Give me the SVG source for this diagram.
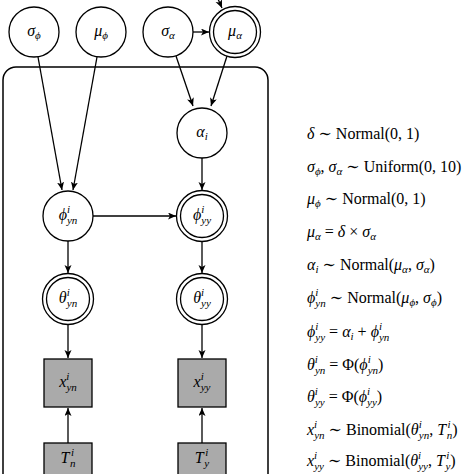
<svg xmlns="http://www.w3.org/2000/svg" width="474" height="474" viewBox="0 0 474 474">
<style>
.n{fill:#fff;stroke:#000;stroke-width:1.3}
.obs{fill:#aaa;stroke:#000;stroke-width:1.3}
.e{stroke:#000;stroke-width:1.3;fill:none;marker-end:url(#ah)}
.plate{fill:none;stroke:#000;stroke-width:1.5}
text{font-family:"Liberation Serif","DejaVu Serif",serif;font-size:16px;fill:#000}
.m{font-style:italic}
.s{font-size:11px}
</style>
<defs>
<marker id="ah" markerUnits="userSpaceOnUse" markerWidth="9" markerHeight="8" refX="8" refY="3.5" orient="auto">
<path d="M0,0 L8,3.5 L0,7 L2,3.5 z" fill="#000"/>
</marker>
</defs>
<rect class="plate" x="3" y="67" width="265" height="440" rx="13"/>
<g id="connectors">
<line class="e" x1="214" y1="-10" x2="222" y2="8"/>
<line class="e" x1="193" y1="32" x2="209" y2="32"/>
<line class="e" x1="38" y1="57" x2="62" y2="190"/>
<line class="e" x1="97" y1="57" x2="73" y2="190"/>
<line class="e" x1="176" y1="56" x2="193" y2="106"/>
<line class="e" x1="227" y1="56" x2="211" y2="106"/>
<line class="e" x1="202" y1="158" x2="202" y2="190"/>
<line class="e" x1="93" y1="216" x2="176" y2="216"/>
<line class="e" x1="68" y1="241" x2="68" y2="273"/>
<line class="e" x1="202" y1="241" x2="202" y2="273"/>
<line class="e" x1="68" y1="324" x2="68" y2="358"/>
<line class="e" x1="202" y1="324" x2="202" y2="358"/>
<line class="e" x1="68" y1="443" x2="68" y2="408"/>
<line class="e" x1="202" y1="443" x2="202" y2="408"/>
</g>
<g id="sigma_phi"><circle class="n" cx="34" cy="32" r="25"/><text x="34" y="36" text-anchor="middle"><tspan class="m">σ</tspan><tspan class="s m" dy="3">ϕ</tspan></text></g>
<g id="mu_phi"><circle class="n" cx="101" cy="32" r="25"/><text x="101" y="36" text-anchor="middle"><tspan class="m">μ</tspan><tspan class="s m" dy="3">ϕ</tspan></text></g>
<g id="sigma_alpha"><circle class="n" cx="168" cy="32" r="25"/><text x="168" y="36" text-anchor="middle"><tspan class="m">σ</tspan><tspan class="s m" dy="3">α</tspan></text></g>
<g id="mu_alpha"><circle class="n" cx="235" cy="32" r="25.5"/><circle class="n" cx="235" cy="32" r="21.5"/><text x="235" y="36" text-anchor="middle"><tspan class="m">μ</tspan><tspan class="s m" dy="3">α</tspan></text></g>
<g id="alpha_i"><circle class="n" cx="202" cy="133" r="25"/><text x="202" y="137" text-anchor="middle"><tspan class="m">α</tspan><tspan class="s m" dy="3">i</tspan></text></g>
<g id="phi_yn"><circle class="n" cx="68" cy="216" r="25"/><text x="68" y="220" text-anchor="middle"><tspan class="m">ϕ</tspan><tspan class="s m" dy="-7">i</tspan><tspan class="s m" dx="-3" dy="11">yn</tspan></text></g>
<g id="phi_yy"><circle class="n" cx="202" cy="216" r="25.5"/><circle class="n" cx="202" cy="216" r="21.5"/><text x="202" y="220" text-anchor="middle"><tspan class="m">ϕ</tspan><tspan class="s m" dy="-7">i</tspan><tspan class="s m" dx="-3" dy="11">yy</tspan></text></g>
<g id="theta_yn"><circle class="n" cx="68" cy="299" r="25.5"/><circle class="n" cx="68" cy="299" r="21.5"/><text x="68" y="303" text-anchor="middle"><tspan class="m">θ</tspan><tspan class="s m" dy="-7">i</tspan><tspan class="s m" dx="-3" dy="11">yn</tspan></text></g>
<g id="theta_yy"><circle class="n" cx="202" cy="299" r="25.5"/><circle class="n" cx="202" cy="299" r="21.5"/><text x="202" y="303" text-anchor="middle"><tspan class="m">θ</tspan><tspan class="s m" dy="-7">i</tspan><tspan class="s m" dx="-3" dy="11">yy</tspan></text></g>
<g id="x_yn"><rect class="obs" x="44" y="359" width="48" height="48"/><text x="68" y="387" text-anchor="middle"><tspan class="m">x</tspan><tspan class="s m" dy="-7">i</tspan><tspan class="s m" dx="-3" dy="11">yn</tspan></text></g>
<g id="x_yy"><rect class="obs" x="178" y="359" width="48" height="48"/><text x="202" y="387" text-anchor="middle"><tspan class="m">x</tspan><tspan class="s m" dy="-7">i</tspan><tspan class="s m" dx="-3" dy="11">yy</tspan></text></g>
<g id="T_n"><rect class="obs" x="44" y="443" width="48" height="48"/><text x="68" y="463" text-anchor="middle"><tspan class="m">T</tspan><tspan class="s m" dx="1.5" dy="-7">i</tspan><tspan class="s m" dx="-4" dy="11">n</tspan></text></g>
<g id="T_y"><rect class="obs" x="178" y="443" width="48" height="48"/><text x="202" y="463" text-anchor="middle"><tspan class="m">T</tspan><tspan class="s m" dx="1.5" dy="-7">i</tspan><tspan class="s m" dx="-4" dy="11">y</tspan></text></g>
<g id="equations">
<text x="307" y="139"><tspan class="m">δ</tspan> ∼ Normal(0, 1)</text>
<text x="307" y="172"><tspan class="m">σ</tspan><tspan class="s m" dy="3">ϕ</tspan><tspan dy="-3">, </tspan><tspan class="m">σ</tspan><tspan class="s m" dy="3">α</tspan><tspan dy="-3"> ∼ Uniform(0, 10)</tspan></text>
<text x="307" y="204"><tspan class="m">μ</tspan><tspan class="s m" dy="3">ϕ</tspan><tspan dy="-3"> ∼ Normal(0, 1)</tspan></text>
<text x="307" y="237"><tspan class="m">μ</tspan><tspan class="s m" dy="3">α</tspan><tspan dy="-3"> = </tspan><tspan class="m">δ</tspan> × <tspan class="m">σ</tspan><tspan class="s m" dy="3">α</tspan></text>
<text x="307" y="270"><tspan class="m">α</tspan><tspan class="s m" dy="3">i</tspan><tspan dy="-3"> ∼ Normal(</tspan><tspan class="m">μ</tspan><tspan class="s m" dy="3">α</tspan><tspan dy="-3">, </tspan><tspan class="m">σ</tspan><tspan class="s m" dy="3">α</tspan><tspan dy="-3">)</tspan></text>
<text x="307" y="303"><tspan class="m">ϕ</tspan><tspan class="s m" dy="-7">i</tspan><tspan class="s m" dx="-3" dy="11">yn</tspan><tspan dy="-4"> ∼ Normal(</tspan><tspan class="m">μ</tspan><tspan class="s m" dy="3">ϕ</tspan><tspan dy="-3">, </tspan><tspan class="m">σ</tspan><tspan class="s m" dy="3">ϕ</tspan><tspan dy="-3">)</tspan></text>
<text x="307" y="337"><tspan class="m">ϕ</tspan><tspan class="s m" dy="-7">i</tspan><tspan class="s m" dx="-3" dy="11">yy</tspan><tspan dy="-4"> = </tspan><tspan class="m">α</tspan><tspan class="s m" dy="3">i</tspan><tspan dy="-3"> + </tspan><tspan class="m">ϕ</tspan><tspan class="s m" dy="-7">i</tspan><tspan class="s m" dx="-3" dy="11">yn</tspan></text>
<text x="307" y="370"><tspan class="m">θ</tspan><tspan class="s m" dy="-7">i</tspan><tspan class="s m" dx="-3" dy="11">yn</tspan><tspan dy="-4"> = Φ(</tspan><tspan class="m">ϕ</tspan><tspan class="s m" dy="-7">i</tspan><tspan class="s m" dx="-3" dy="11">yn</tspan><tspan dy="-4">)</tspan></text>
<text x="307" y="402"><tspan class="m">θ</tspan><tspan class="s m" dy="-7">i</tspan><tspan class="s m" dx="-3" dy="11">yy</tspan><tspan dy="-4"> = Φ(</tspan><tspan class="m">ϕ</tspan><tspan class="s m" dy="-7">i</tspan><tspan class="s m" dx="-3" dy="11">yy</tspan><tspan dy="-4">)</tspan></text>
<text x="307" y="435"><tspan class="m">x</tspan><tspan class="s m" dy="-7">i</tspan><tspan class="s m" dx="-3" dy="11">yn</tspan><tspan dy="-4"> ∼ Binomial(</tspan><tspan class="m">θ</tspan><tspan class="s m" dy="-7">i</tspan><tspan class="s m" dx="-3" dy="11">yn</tspan><tspan dy="-4">, </tspan><tspan class="m">T</tspan><tspan class="s m" dx="1.5" dy="-7">i</tspan><tspan class="s m" dx="-4" dy="11">n</tspan><tspan dy="-4">)</tspan></text>
<text x="307" y="466"><tspan class="m">x</tspan><tspan class="s m" dy="-7">i</tspan><tspan class="s m" dx="-3" dy="11">yy</tspan><tspan dy="-4"> ∼ Binomial(</tspan><tspan class="m">θ</tspan><tspan class="s m" dy="-7">i</tspan><tspan class="s m" dx="-3" dy="11">yy</tspan><tspan dy="-4">, </tspan><tspan class="m">T</tspan><tspan class="s m" dx="1.5" dy="-7">i</tspan><tspan class="s m" dx="-4" dy="11">y</tspan><tspan dy="-4">)</tspan></text>
</g>
</svg>
